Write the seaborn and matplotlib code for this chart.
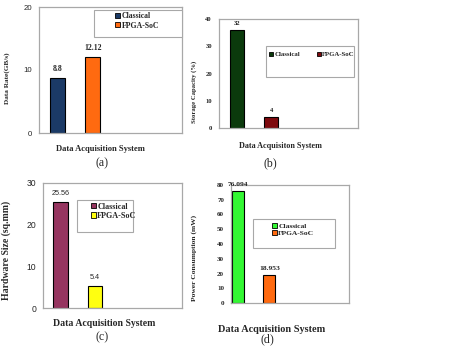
import numpy as np
import pandas as pd
import matplotlib
matplotlib.use('Agg')
import matplotlib.pyplot as plt
import seaborn as sns
from matplotlib.patches import Rectangle, Patch

# data
systems = ['Classical', 'FPGA-SoC']
data_rate = [8.8, 12.12]
storage = [36, 4]              # bar heights as drawn
storage_labels = ['32', '4']   # labels printed on the original
hardware = [25.56, 5.4]
power = [76.094, 18.953]

W, H = 474, 346
sns.set_style('white')
fig = plt.figure(figsize=(W / 100, H / 100), dpi=100)

SERIF = 'Liberation Serif'
SANS = 'Liberation Sans'


def add_ax(l, t, r, b):
    return fig.add_axes([l / W, 1 - b / H, (r - l) / W, (b - t) / H])


def to_axes(ax, px, py):
    return ax.transAxes.inverted().transform((px, H - py))


panels = [
    dict(box=(39, 7, 182, 133), vals=data_rate, labs=['8.8', '12.12'],
         cols=['#1b3a66', '#ff6a10'], ylim=20, ticks=[0, 10, 20],
         ylabel='Data Rate(GB/s)', ylsize=5.2, ylpos=(10, 78),
         xlabel='Data Acquisition System', xlsize=6.1, xlpos=(100, 145),
         tickfont=dict(family=SANS, size=5.6, weight='normal'),
         valfont=dict(family=SERIF, size=5.6, weight='bold'),
         xlim=(-0.52, 3.51), width=0.42,
         legbox=(94, 10, 182, 37), leg=dict(x=110, y=7, ncol=1, size=5.6),
         cap='(a)', cappos=(102, 163)),
    dict(box=(219, 19, 358, 128), vals=storage, labs=storage_labels,
         cols=['#0b3a0c', '#7e0a0e'], ylim=40, ticks=[0, 10, 20, 30, 40],
         ylabel='Storage Capacity (%)', ylsize=4.8, ylpos=(197, 92),
         xlabel='Data Acquisiton System', xlsize=5.9, xlpos=(280, 142),
         tickfont=dict(family=SERIF, size=4.8, weight='bold'),
         valfont=dict(family=SERIF, size=4.8, weight='bold'),
         xlim=(-0.52, 3.51), width=0.41,
         legbox=(266, 46, 354, 77), leg=dict(x=264, y=47, ncol=2, size=4.9),
         cap='(b)', cappos=(270, 163)),
    dict(box=(43, 183, 182, 308), vals=hardware, labs=['25.56', '5.4'],
         cols=['#963560', '#ffff10'], ylim=30, ticks=[0, 10, 20, 30],
         ylabel='Hardware Size (sq.mm)', ylsize=7.0, ylpos=(11, 250),
         xlabel='Data Acquisition System', xlsize=7.0, xlpos=(104, 319),
         tickfont=dict(family=SANS, size=6.2, weight='normal'),
         valfont=dict(family=SANS, size=5.2, weight='normal'),
         xlim=(-0.51, 3.52), width=0.43,
         legbox=(77, 200, 133, 232), leg=dict(x=85, y=197, ncol=1, size=5.9),
         cap='(c)', cappos=(102, 337)),
    dict(box=(231, 185, 349, 303), vals=power, labs=['76.094', '18.953'],
         cols=['#33f733', '#ff6a10'], ylim=80, ticks=list(range(0, 90, 10)),
         ylabel='Power Consumption (mW)', ylsize=5.4, ylpos=(197, 258),
         xlabel='Data Acquisition System', xlsize=7.4, xlpos=(272, 325),
         tickfont=dict(family=SERIF, size=5.0, weight='bold'),
         valfont=dict(family=SERIF, size=5.4, weight='bold'),
         xlim=(-0.22, 3.52), width=0.38,
         legbox=(253, 219, 335, 248), leg=dict(x=267, y=218, ncol=1, size=5.4),
         cap='(d)', cappos=(267, 339)),
]

for p in panels:
    ax = add_ax(*p['box'])
    df = pd.DataFrame({'system': systems, 'value': p['vals']})
    sns.barplot(data=df, x='system', y='value', hue='system', palette=p['cols'],
                saturation=1, width=p['width'], edgecolor='black', linewidth=0.8,
                legend=False, ax=ax)
    ax.set_xlim(*p['xlim'])
    ax.set_ylim(0, p['ylim'])
    ax.set_yticks(p['ticks'])
    ax.set_xticks([])
    for lab in ax.get_yticklabels():
        lab.set_fontfamily(p['tickfont']['family'])
        lab.set_fontsize(p['tickfont']['size'])
        lab.set_fontweight(p['tickfont']['weight'])
    ax.tick_params(axis='y', length=2, width=0.6, color='#606060', pad=3)
    for s in ax.spines.values():
        s.set_color('#a8a8a8')
        s.set_linewidth(0.9)

    for cont, lab in zip(ax.containers, p['labs']):
        ax.bar_label(cont, labels=[lab], padding=3, **p['valfont'])

    ax.set_ylabel(p['ylabel'], family=SERIF, weight='bold', fontsize=p['ylsize'])
    ax.yaxis.set_label_coords(*to_axes(ax, *p['ylpos']))
    ax.set_xlabel(p['xlabel'], family=SERIF, weight='bold', fontsize=p['xlsize'])
    ax.xaxis.set_label_coords(*to_axes(ax, *p['xlpos']))

    # legend box
    l, t, r, b = p['legbox']
    x0, y0 = to_axes(ax, l, b)
    x1, y1 = to_axes(ax, r, t)
    ax.add_patch(Rectangle((x0, y0), x1 - x0, y1 - y0, transform=ax.transAxes,
                           facecolor='white', edgecolor='#a8a8a8', linewidth=0.8,
                           clip_on=False, zorder=3))
    handles = [Patch(facecolor=c, edgecolor='black', linewidth=0.6) for c in p['cols']]
    lg = p['leg']
    leg = ax.legend(handles, systems, loc='upper left',
                    bbox_to_anchor=tuple(to_axes(ax, lg['x'], lg['y'])),
                    ncol=lg['ncol'], frameon=False, borderpad=0.2,
                    handlelength=0.6, handleheight=0.6, handletextpad=0.2,
                    labelspacing=0.15, columnspacing=2.5,
                    prop=dict(family=SERIF, weight='bold', size=lg['size']))
    leg.set_zorder(4)

    fig.text(p['cappos'][0] / W, 1 - p['cappos'][1] / H, p['cap'],
             family=SERIF, fontsize=8.6, ha='center', va='center')

fig.savefig('out.png', dpi=100)
